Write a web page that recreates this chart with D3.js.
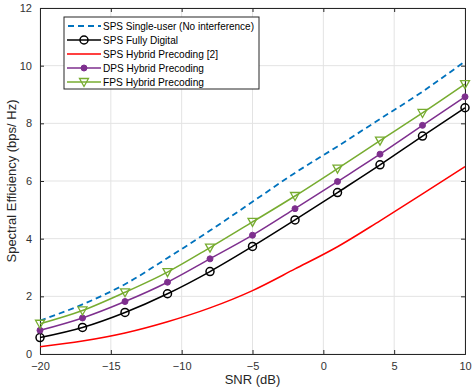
<!DOCTYPE html>
<html><head><meta charset="utf-8">
<script src="https://cdn.jsdelivr.net/npm/d3@7"></script>
<style>body{margin:0;background:#fff}svg{display:block}text{font-family:"Liberation Sans",Arial,sans-serif}</style>
</head><body><svg id="c" width="474" height="391"></svg>
<script>
const snr = [-20,-17,-14,-11,-8,-5,-2,1,4,7,10];
const singleUser = [1.16,1.72,2.42,3.33,4.28,5.28,6.28,7.2,8.15,9.1,10.15];
const fullyDigital = [0.57,0.92,1.44,2.09,2.86,3.73,4.65,5.6,6.56,7.56,8.54];
const spsHybrid = [0.25,0.45,0.73,1.12,1.6,2.2,2.95,3.72,4.62,5.55,6.5];
const dpsHybrid = [0.82,1.25,1.82,2.49,3.3,4.12,5.04,5.98,6.93,7.93,8.92];
const fpsHybrid = [1.05,1.51,2.14,2.84,3.69,4.58,5.48,6.43,7.4,8.36,9.36];
const xTicks = [-20,-15,-10,-5,0,5,10];
const yTicks = [0,2,4,6,8,10,12];
const seriesNames = ["SPS Single-user (No interference)","SPS Fully Digital","SPS Hybrid Precoding [2]","DPS Hybrid Precoding","FPS Hybrid Precoding"];

const svg = d3.select("#c");
const L=40,R=465,T=8,B=354;
const x = d3.scaleLinear().domain([-20,10]).range([L,R]);
const y = d3.scaleLinear().domain([0,12]).range([B,T]);

// grid
const g = svg.append("g");
g.selectAll(".gx").data(xTicks).join("line").attr("x1",d=>x(d)).attr("x2",d=>x(d)).attr("y1",T).attr("y2",B).attr("stroke","#e3e3e3").attr("stroke-width",1);
g.selectAll(".gy").data(yTicks).join("line").attr("y1",d=>y(d)).attr("y2",d=>y(d)).attr("x1",L).attr("x2",R).attr("stroke","#e3e3e3").attr("stroke-width",1);

// axes
const ax = svg.append("g").attr("transform",`translate(0,${B})`).call(d3.axisBottom(x).tickValues(xTicks).tickSize(-4).tickPadding(8).tickFormat(d3.format("d")));
const ay = svg.append("g").attr("transform",`translate(${L},0)`).call(d3.axisLeft(y).tickValues(yTicks).tickSize(-4).tickPadding(8).tickFormat(d3.format("d")));
const axt = svg.append("g").attr("transform",`translate(0,${T})`).call(d3.axisTop(x).tickValues(xTicks).tickSize(-4).tickFormat(""));
const ayr = svg.append("g").attr("transform",`translate(${R},0)`).call(d3.axisRight(y).tickValues(yTicks).tickSize(-4).tickFormat(""));
[ax,ay,axt,ayr].forEach(a=>{a.select(".domain").attr("stroke","#262626");a.selectAll(".tick line").attr("stroke","#262626");a.selectAll("text").attr("fill","#333").style("font-size","11px").style("font-family","'Liberation Sans',Arial,sans-serif");});

const cols = ["#0072BD","#000000","#FF0000","#7E2F8E","#77AC30"];
const datas = [singleUser,fullyDigital,spsHybrid,dpsHybrid,fpsHybrid];
const line = d3.line().x(d=>x(d[0])).y(d=>y(d[1])).curve(d3.curveMonotoneX);
datas.forEach((arr,i)=>{
  const pts = snr.map((s,j)=>[s,arr[j]]);
  const p = svg.append("path").datum(pts).attr("d",line).attr("fill","none").attr("stroke",cols[i]).attr("stroke-width",i===0?1.8:1.5);
  if(i===0) p.attr("stroke-dasharray","6,4");
});
function marker(sel,i,cx,cy){
  if(i===1) sel.append("circle").attr("cx",cx).attr("cy",cy).attr("r",4).attr("fill","none").attr("stroke",cols[1]).attr("stroke-width",1.5);
  if(i===3) sel.append("circle").attr("cx",cx).attr("cy",cy).attr("r",3).attr("fill",cols[3]).attr("stroke",cols[3]);
  if(i===4) sel.append("path").attr("d",`M${cx-4.5},${cy-3.5}L${cx+4.5},${cy-3.5}L${cx},${cy+4.5}Z`).attr("fill","none").attr("stroke",cols[4]).attr("stroke-width",1.3);
}
[1,3,4].forEach(i=>{
  const mg = svg.append("g");
  snr.forEach((s,j)=>marker(mg,i,x(s),y(datas[i][j])));
});

// legend
const lg = svg.append("g");
lg.append("rect").attr("x",64).attr("y",17).attr("width",195).attr("height",72).attr("fill","#fff").attr("stroke","#262626").attr("stroke-width",1);
const legendWidths = [151,75,115,101,101];
seriesNames.forEach((n,i)=>{
  const yy = 26 + i*14;
  const l = lg.append("line").attr("x1",67).attr("x2",101).attr("y1",yy).attr("y2",yy).attr("stroke",cols[i]).attr("stroke-width",i===0?1.8:1.5);
  if(i===0) l.attr("stroke-dasharray","6,4").attr("stroke-dashoffset",-1);
  marker(lg,i,84,yy);
  lg.append("text").attr("x",103).attr("y",yy+4).text(n).attr("fill","#000").style("font-size","11px")
    .attr("textLength",legendWidths[i]).attr("lengthAdjust","spacingAndGlyphs");
});

// axis labels
svg.append("text").attr("x",(L+R)/2).attr("y",384).attr("text-anchor","middle").style("font-size","13px").attr("fill","#262626").text("SNR (dB)");
svg.append("text").attr("transform",`translate(16,${(T+B)/2}) rotate(-90)`).attr("text-anchor","middle").style("font-size","13px").attr("fill","#262626").text("Spectral Efficiency (bps/ Hz)");
</script></body></html>
